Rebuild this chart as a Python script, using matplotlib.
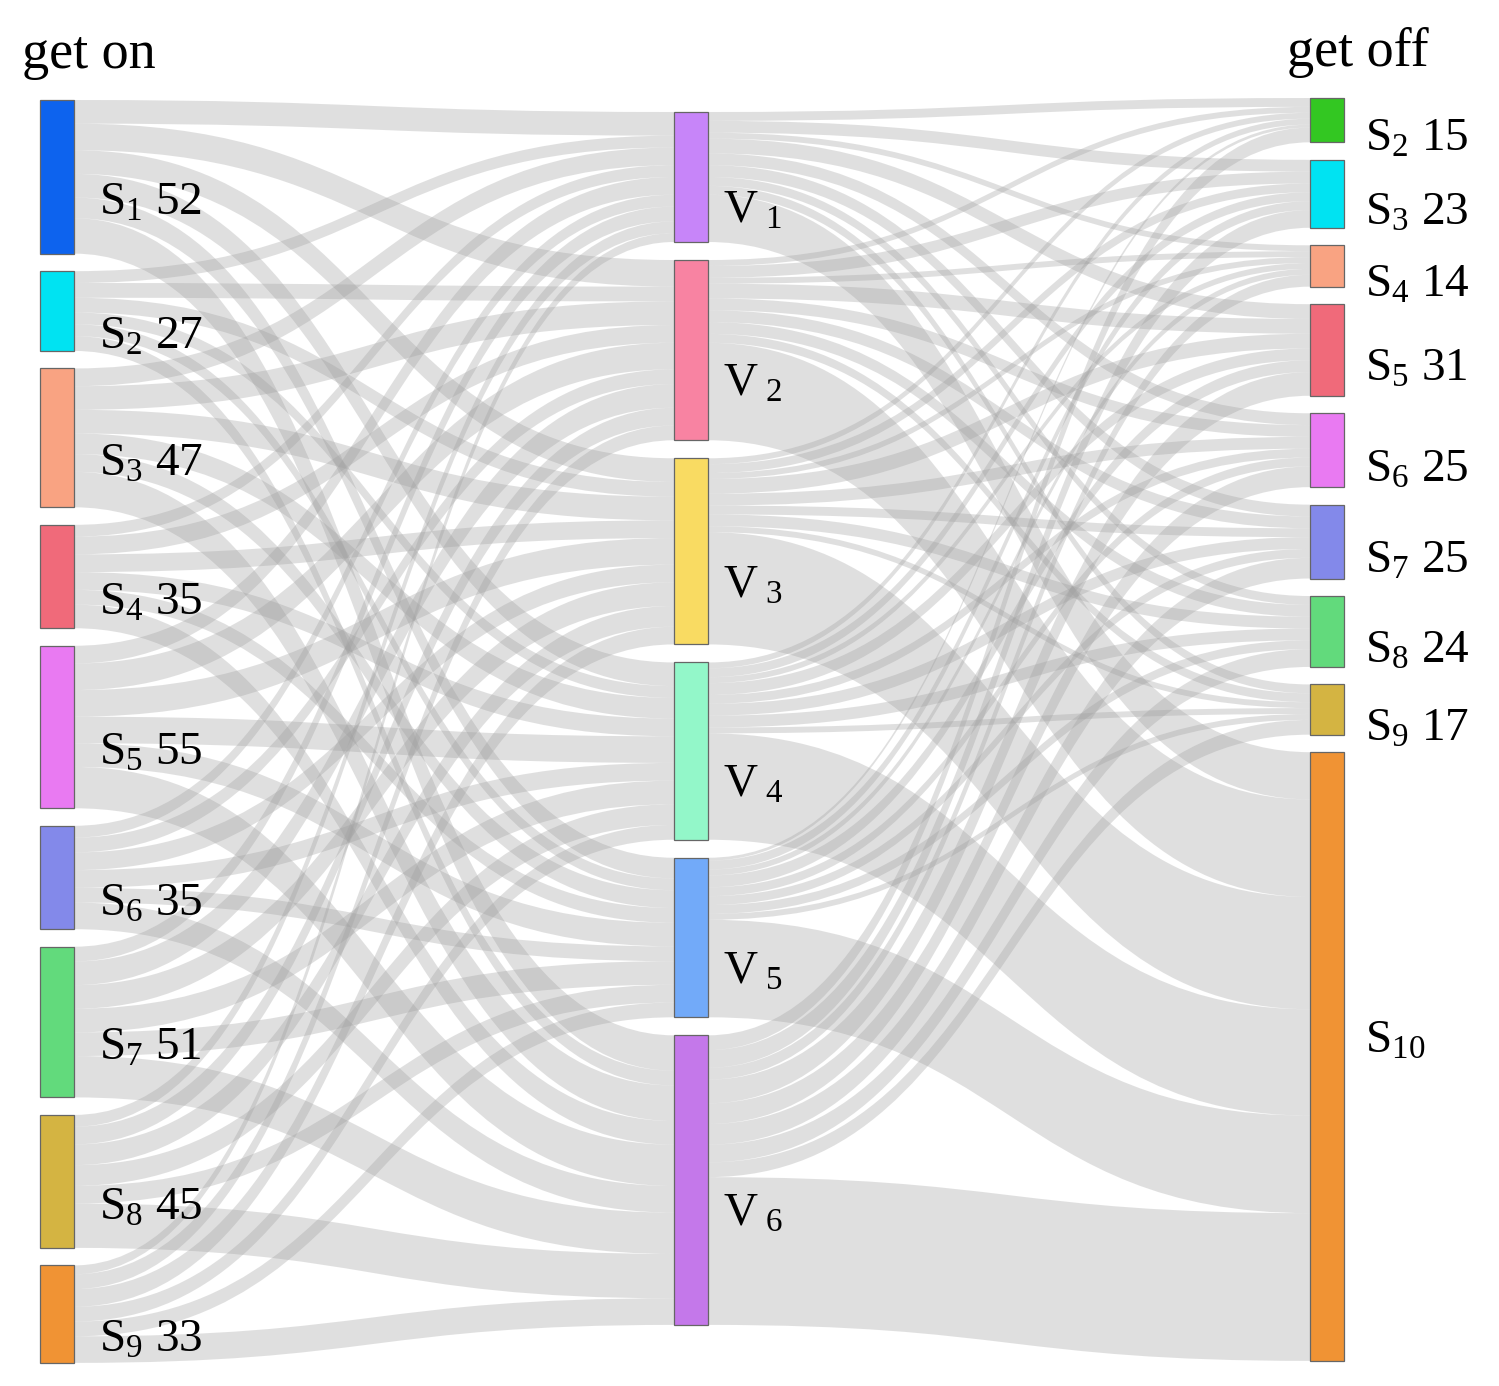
import numpy as np
import matplotlib
matplotlib.use("Agg")
import matplotlib.pyplot as plt
from matplotlib.path import Path
from matplotlib.patches import PathPatch, Rectangle

plt.rcParams['font.family'] = ['Liberation Serif', 'DejaVu Serif']
plt.rcParams['mathtext.fontset'] = 'custom'
plt.rcParams['mathtext.rm'] = 'Liberation Serif'
plt.rcParams['mathtext.it'] = 'Liberation Serif:italic'

# ---- data ----
on_names = ['1', '2', '3', '4', '5', '6', '7', '8', '9']
on_values = [52, 27, 47, 35, 55, 35, 51, 45, 33]
veh_names = ['1', '2', '3', '4', '5', '6']
veh_values = [44, 61, 63, 60, 54, 98]
off_names = ['2', '3', '4', '5', '6', '7', '8', '9', '10']
off_values = [15, 23, 14, 31, 25, 25, 24, 17, 206]
off_show_value = [True] * 8 + [False]

# get on station -> vehicle (rows: S1..S9, cols: V1..V6), estimated
on_to_veh = [
    [8, 9, 8, 8, 7, 12],
    [4, 5, 5, 4, 4, 5],
    [6, 8, 8, 7, 6, 12],
    [4, 6, 6, 6, 5, 8],
    [6, 9, 9, 9, 8, 14],
    [4, 5, 6, 6, 5, 9],
    [5, 8, 8, 8, 8, 14],
    [4, 6, 7, 7, 6, 15],
    [3, 5, 6, 5, 5, 9],
]
# vehicle -> get off station (rows: V1..V6, cols: S2..S10), estimated
veh_to_off = [
    [3, 4, 2, 5, 4, 4, 3, 3, 16],
    [2, 4, 2, 5, 4, 4, 4, 3, 33],
    [2, 3, 2, 5, 4, 3, 4, 2, 38],
    [2, 3, 2, 4, 3, 4, 4, 2, 36],
    [1, 3, 2, 4, 3, 3, 3, 2, 33],
    [5, 6, 4, 8, 7, 7, 6, 5, 50],
]

on_colors = ['#0d63ee', '#00e3f2', '#f9a382', '#f06a7a', '#e97af2',
             '#8389ea', '#62da7c', '#d4b442', '#f09334']
veh_colors = ['#c785f9', '#f883a2', '#f9db62', '#93f7c9', '#72aaf9', '#c478ea']
off_colors = ['#33c722', '#00e3f2', '#f9a382', '#f06a7a', '#e97af2',
              '#8389ea', '#62da7c', '#d4b442', '#f09334']

# ---- layout (pixel coordinates) ----
W, H = 1499, 1386
scale = 2.955
node_w = 34
col_x = [40, 674, 1310]
col_top = [100, 112, 98]
col_gap = [17.5, 18, 17.5]


def place(values, top, gap):
    ys = []
    y = top
    for v in values:
        ys.append((y, y + v * scale))
        y += v * scale + gap
    return ys


on_pos = place(on_values, col_top[0], col_gap[0])
veh_pos = place(veh_values, col_top[1], col_gap[1])
off_pos = place(off_values, col_top[2], col_gap[2])

fig = plt.figure(figsize=(W / 100, H / 100), dpi=100)
ax = fig.add_axes([0, 0, 1, 1])
ax.set_xlim(0, W)
ax.set_ylim(H, 0)
ax.axis('off')


def ribbon(x0, y0a, y0b, x1, y1a, y1b):
    xm = (x0 + x1) / 2.0
    verts = [(x0, y0a), (xm, y0a), (xm, y1a), (x1, y1a),
             (x1, y1b), (xm, y1b), (xm, y0b), (x0, y0b), (x0, y0a)]
    codes = [Path.MOVETO, Path.CURVE4, Path.CURVE4, Path.CURVE4,
             Path.LINETO, Path.CURVE4, Path.CURVE4, Path.CURVE4, Path.CLOSEPOLY]
    ax.add_patch(PathPatch(Path(verts, codes), facecolor='#9e9e9e',
                           edgecolor='none', alpha=0.32, zorder=1))


def draw_links(mat, src_pos, tgt_pos, xs, xt):
    mat = np.array(mat, dtype=float)
    ns, nt = mat.shape
    # outgoing stacked by target order, incoming stacked by source order
    tgt_start = {}
    for j in range(nt):
        y = tgt_pos[j][0]
        for i in range(ns):
            tgt_start[(i, j)] = y
            y += mat[i, j] * scale
    for i in range(ns):
        y = src_pos[i][0]
        for j in range(nt):
            w = mat[i, j] * scale
            if w > 0:
                ya = tgt_start[(i, j)]
                ribbon(xs, y, y + w, xt, ya, ya + w)
            y += w


draw_links(on_to_veh, on_pos, veh_pos, col_x[0] + node_w, col_x[1])
draw_links(veh_to_off, veh_pos, off_pos, col_x[1] + node_w, col_x[2])


def draw_nodes(pos, colors, x):
    for (y0, y1), c in zip(pos, colors):
        ax.add_patch(Rectangle((x, y0), node_w, y1 - y0, facecolor=c,
                               edgecolor='#666666', linewidth=0.9, zorder=3))


draw_nodes(on_pos, on_colors, col_x[0])
draw_nodes(veh_pos, veh_colors, col_x[1])
draw_nodes(off_pos, off_colors, col_x[2])

fs = 34
for (y0, y1), n, v in zip(on_pos, on_names, on_values):
    ax.text(99, (y0 + y1) / 2 + 38, r'S$_\mathrm{%s}$ %d' % (n, v),
            fontsize=fs, va='baseline', ha='left', zorder=4)
for (y0, y1), n in zip(veh_pos, veh_names):
    ax.text(723, (y0 + y1) / 2 + 46, r'V$_{\ \mathrm{%s}}$' % n,
            fontsize=fs, va='baseline', ha='left', zorder=4)
for (y0, y1), n, v, show in zip(off_pos, off_names, off_values, off_show_value):
    if show:
        ax.text(1365, (y0 + y1) / 2 + 31, r'S$_\mathrm{%s}$ %d' % (n, v),
                fontsize=fs, va='baseline', ha='left', zorder=4)
    else:
        ax.text(1365, (y0 + y1) / 2 - 4, r'S$_\mathrm{%s}$' % n,
                fontsize=fs, va='baseline', ha='left', zorder=4)

ax.text(22, 68, 'get on', fontsize=39, va='baseline', ha='left')
ax.text(1287, 66, 'get off', fontsize=39, va='baseline', ha='left')

plt.savefig('out.png', dpi=100)
